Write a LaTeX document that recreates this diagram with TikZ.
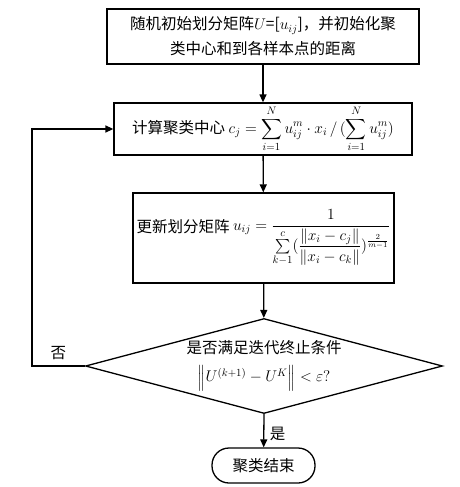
\documentclass[tikz,border=0pt]{standalone}
\usepackage{fix-cm}
\usepackage{amsmath}
\usepackage{fontspec}
\setmainfont{Noto Sans CJK SC}
\usepackage{tikz}
\usetikzlibrary{
    arrows.meta,
    shapes.geometric
}
\tikzset{
    procbox/.style={draw, line width=1.3pt, rectangle, align=center, inner sep=0pt},
    endbox/.style={draw, line width=1.3pt, rectangle, rounded corners=17pt, inner sep=0pt},
    testbox/.style={draw, line width=1.3pt, diamond, aspect=3.76, align=center, inner sep=0pt},
    arr/.style={line width=1.3pt, -{Triangle[length=8pt,width=7pt]}}
}

\begin{document}
\begin{tikzpicture}[x=1pt, y=-1pt, font=\fontsize{15.5}{25}\selectfont]
\useasboundingbox (0,0) rectangle (460,487);
\node[procbox, minimum width=312pt, minimum height=55pt] (init) at (263,36.5)
    {随机初始划分矩阵$U$=[$u_{ij}$]，并初始化聚\\类中心和到各样本点的距离};
\node[procbox, minimum width=298pt, minimum height=52pt] (center) at (263,129)
    {计算聚类中心 $\displaystyle c_j=\sum_{i=1}^{N}u_{ij}^{m}\cdot x_i\,/\,(\sum_{i=1}^{N}u_{ij}^{m})$};
\node[procbox, minimum width=261pt, minimum height=90pt] (update) at (263.5,238)
    {更新划分矩阵 \raisebox{2pt}{$\displaystyle u_{ij}=\frac{1}{\sum\limits_{k-1}^{c}(\dfrac{\left\|x_i-c_j\right\|}{\left\|x_i-c_k\right\|})^{\frac{2}{m-1}}}$}};
\node[testbox, minimum width=357pt, minimum height=95pt] (check) at (264,366)
    {是否满足迭代终止条件\\[3pt]$\left\|U^{(k+1)}-U^{K}\right\|<\varepsilon?$};
\node[endbox, minimum width=103pt, minimum height=35pt] (stop) at (263.5,465.5) {聚类结束};
\coordinate (loop) at (32,366);
% arrows
\draw[arr] (init) -- (center);
\draw[arr] (center) -- (update);
\draw[arr] (update) -- (check);
\draw[arr] (check.south) -- node[right=2pt, pos=0.6] {是} (stop);
\draw[arr] (check.west) -- node[above=2pt] {否} (loop) |- (center.west);
\end{tikzpicture}
\end{document}
